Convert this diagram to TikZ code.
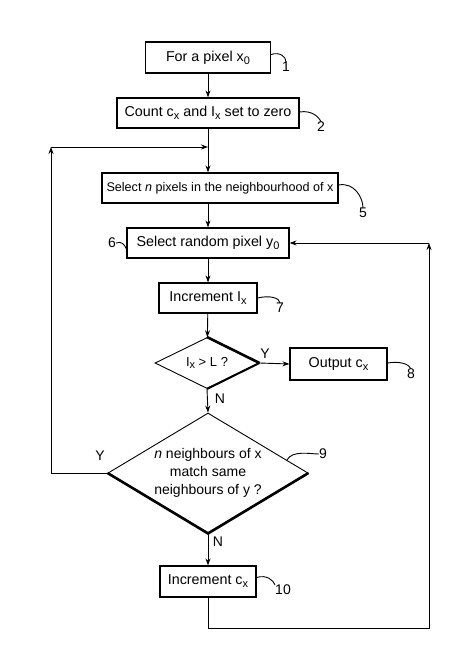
\documentclass[tikz,border=0pt]{standalone}
\usepackage{fontspec}
\setmainfont{Liberation Sans}
\usetikzlibrary{shapes.geometric,arrows.meta}
\newcommand{\subtxt}[1]{\raisebox{-0.4ex}{\fontsize{11}{11}\selectfont #1}}

\begin{document}
\begin{tikzpicture}[x=1pt,y=-1pt,
  box/.style={draw,line width=1.2pt,minimum height=30pt,inner sep=2pt,font=\fontsize{14.3}{17}\selectfont},
  decision/.style={draw,line width=0.9pt,shape=diamond,inner sep=0pt,align=center,font=\fontsize{14}{18}\selectfont},
  flow/.style={-{Stealth[length=7pt,width=5pt]},line width=0.9pt},
  leader/.style={line width=0.9pt},
  tag/.style={inner sep=0pt,font=\fontsize{14}{17}\selectfont}]
  \useasboundingbox (0,0) rectangle (474,668);
  % boxes
  \node[box,minimum width=125pt,minimum height=31pt] (start) at (208,57.5) {For a pixel x\subtxt{0}};
  \node[box,minimum width=182pt] (reset) at (208,113) {Count c\subtxt{x} and I\subtxt{x} set to zero};
  \node[box,minimum width=236pt,font=\fontsize{12.6}{15}\selectfont] (select) at (220,188) {Select \textit{n} pixels in the neighbourhood of x};
  \node[box,minimum width=162pt] (random) at (208,243) {Select random pixel y\subtxt{0}};
  \node[box,minimum width=98pt] (incl) at (208,298) {Increment I\subtxt{x}};
  \node[decision,shape aspect=2,minimum width=104pt,minimum height=51pt,font=\fontsize{13}{16}\selectfont] (test) at (207,363) {I\subtxt{x} > L ?};
  \node[box,minimum width=97pt,minimum height=32pt] (output) at (338.5,364) {Output c\subtxt{x}};
  \node[decision,shape aspect=1.67,minimum width=200pt,minimum height=120pt] (match) at (208,473)
    {\textit{n} neighbours of x\\match same\\neighbours of y ?};
  \node[box,minimum width=96pt,minimum height=31pt] (incc) at (208,581.5) {Increment c\subtxt{x}};
  % heavy edges of the decisions
  \draw[line width=2.6pt] (test.north) -- (test.east);
  \draw[line width=2pt] (test.east) -- (test.south);
  \draw[line width=2.6pt] (match.west) -- (match.south) -- (match.east);
  % loop corners
  \coordinate (leftlow) at (51,473);
  \coordinate (lefttop) at (51,147);
  \coordinate (join) at (208,147);
  \coordinate (bottom) at (208,628);
  \coordinate (rightlow) at (429,628);
  \coordinate (righttop) at (429,243);
  % connectors
  \draw[flow] (start) -- (reset);
  \draw[flow] (reset.south) -- (reset.south |- select.north);
  \draw[flow] (select.south -| random.north) -- (random.north);
  \draw[flow] (random) -- (incl);
  \draw[flow] (incl) -- (test);
  \draw[flow] (test.east) -- (output.west);
  \draw[flow] (test.south) -- (match.north);
  \draw[flow] (match.south) -- (incc.north);
  \draw[flow] (match.west) -- (leftlow) -- (lefttop);
  \draw[flow] (lefttop) -- (join);
  \draw[flow] (incc.south) -- (bottom) -- (rightlow) -- (righttop);
  \draw[flow] (righttop) -- (random.east);
  % branch letters
  \node[tag] (ytest) at (265,354) {Y};
  \node[tag] (ntest) at (220,399) {N};
  \node[tag] (ymatch) at (100,456) {Y};
  \node[tag] (nmatch) at (218,542) {N};
  % reference numbers
  \node[tag] (n1) at (286,67) {1};
  \node[tag] (n2) at (321,127) {2};
  \node[tag] (n5) at (363,213) {5};
  \node[tag] (n6) at (112,243) {6};
  \node[tag] (n7) at (280,308) {7};
  \node[tag] (n8) at (411,374) {8};
  \node[tag] (n9) at (323,454) {9};
  \node[tag] (n10) at (283,590) {10};
  \draw[leader] ([yshift=3pt]start.east) .. controls +(9,-3) and +(0,-5) .. (n1.north);
  \draw[leader] ([yshift=1pt]reset.east) .. controls +(12,-2) and +(-2,-5) .. (n2.north);
  \draw[leader] ([yshift=3pt]select.east) .. controls +(16,-3) and +(0,-10) .. (n5.north);
  \draw[leader] (n6.east) .. controls +(5,-2) and +(-2,-5) .. ([yshift=-6pt]random.west);
  \draw[leader] (incl.east) .. controls +(12,-3) and +(0,-5) .. (n7.north);
  \draw[leader] ([yshift=1pt]output.east) .. controls +(12,-2) and +(-2,-5) .. (n8.north);
  \draw[leader] (287,460) .. controls +(5,-10) and +(-8,0) .. (n9.west);
  \draw[leader] ([yshift=4pt]incc.east) .. controls +(10,-3) and +(-2,-5) .. (n10.north west);
\end{tikzpicture}
\end{document}
